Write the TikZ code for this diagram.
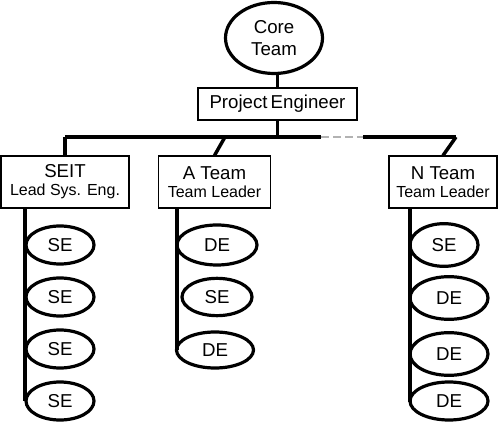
\documentclass[tikz,border=0pt]{standalone}
\usepackage{fontspec}
\setmainfont{Liberation Sans}
\usetikzlibrary{shapes.geometric}
\begin{document}
\begin{tikzpicture}[x=0.75pt,y=-0.75pt,
  oval/.style={draw=black,line width=2.4pt,ellipse,inner sep=0pt,font=\fontsize{14pt}{15pt}\selectfont},
  boxnode/.style={draw=black,line width=0.8pt,rectangle,inner sep=0pt,align=center},
  link/.style={draw=black,line width=2.6pt}]
\useasboundingbox (0,0) rectangle (502,423);
% top
\node[oval,minimum width=72.75pt,minimum height=53.25pt,align=center,font=\fontsize{14pt}{16.5pt}\selectfont] (core) at (274,38) {Core\\Team};
\node[boxnode,minimum width=119.25pt,minimum height=24pt,font=\fontsize{14pt}{15pt}\selectfont] (pe) at (277.5,104) {Project\,Engineer};
\draw[link] (277.5,74) -- (pe.north);
% bar
\coordinate (bl) at (65,137);
\coordinate (bm) at (277.5,137);
\coordinate (bg1) at (321,137);
\coordinate (bg2) at (363,137);
\coordinate (br) at (456,137);
\draw[link] (pe.south) -- (bm);
\draw[link] (bl) -- (bg1);
\draw[draw=black!30,line width=2pt,dash pattern=on 6pt off 3pt] (bg1) -- (bg2);
\draw[link] (bg2) -- (br);
% team boxes
\node[boxnode,minimum width=96pt,minimum height=39pt] (seit) at (65,182)
  {\fontsize{14pt}{15pt}\selectfont SEIT\\[1.5pt]\fontsize{12pt}{14pt}\selectfont Lead Sys. Eng.};
\node[boxnode,minimum width=84pt,minimum height=39pt] (ateam) at (214.5,182)
  {\fontsize{14pt}{15pt}\selectfont A Team\\[1.5pt]\fontsize{12pt}{14pt}\selectfont Team Leader};
\node[boxnode,minimum width=81pt,minimum height=39pt] (nteam) at (443,182)
  {\fontsize{14pt}{15pt}\selectfont N Team\\[1.5pt]\fontsize{12pt}{14pt}\selectfont Team Leader};
\coordinate (ta) at (225,137);
\draw[link] (bl) -- (seit.north);
\draw[link] (ta) -- (ateam.north);
\draw[link] (br) -- (nteam.north);
% SEIT column
\node[oval,minimum width=51pt,minimum height=28.5pt] (s1) at (60,245) {SE};
\node[oval,minimum width=51pt,minimum height=28.5pt] (s2) at (60,297) {SE};
\node[oval,minimum width=51pt,minimum height=28.5pt] (s3) at (60,349) {SE};
\node[oval,minimum width=51pt,minimum height=28.5pt] (s4) at (60,401) {SE};
\coordinate (sa) at (25,208);
\coordinate (sb) at (25,401);
\draw[link] (sa) -- (sb);
% A column
\node[oval,minimum width=60pt,minimum height=30pt] (a1) at (217,245) {DE};
\node[oval,minimum width=52.5pt,minimum height=28pt] (a2) at (217,297) {SE};
\node[oval,minimum width=57.75pt,minimum height=27pt] (a3) at (215,350) {DE};
\coordinate (aa) at (177,208);
\coordinate (ab) at (177,350);
\draw[link] (aa) -- (ab);
% N column
\node[oval,minimum width=51pt,minimum height=32pt] (n1) at (444,245) {SE};
\node[oval,minimum width=58.5pt,minimum height=32pt] (n2) at (449,298) {DE};
\node[oval,minimum width=58.5pt,minimum height=32pt] (n3) at (449,354) {DE};
\node[oval,minimum width=58.5pt,minimum height=28.5pt] (n4) at (449,401) {DE};
\coordinate (na) at (410,208);
\coordinate (nb) at (410,402);
\draw[link] (na) -- (nb);
\end{tikzpicture}
\end{document}
